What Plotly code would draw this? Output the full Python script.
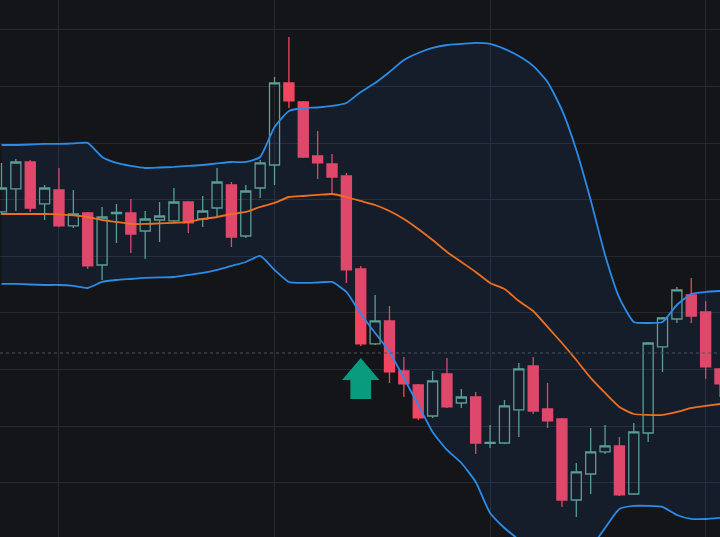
import plotly.graph_objects as go

# ---- data ----
idx = list(range(51))
open_ = [117.83,121.89,126.65,119.24,121.71,115.36,117.65,108.47,117.56,117.65,
         114.47,116.41,116.24,119.59,116.59,118.53,122.59,113.59,122.06,126.12,
         140.60,137.24,127.71,126.30,124.18,107.77,94.53,98.59,89.76,87.29,
         81.82,89.23,84.11,85.17,76.97,77.05,82.88,90.65,83.06,81.29,
         66.99,71.58,75.47,76.53,68.05,78.82,94.00,98.94,103.18,100.18,90.12]
high = [126.48,127.18,127.00,122.59,125.59,121.71,117.83,118.71,119.24,120.12,
        118.00,119.59,122.06,119.77,120.65,125.59,123.12,122.59,127.00,141.65,
        148.71,137.42,132.12,128.06,124.71,108.30,103.18,101.24,92.23,87.47,
        89.76,92.06,86.59,86.06,80.23,84.64,91.17,92.23,87.64,81.47,
        73.52,79.70,80.23,78.11,80.58,94.88,99.29,104.59,106.18,102.12,90.29]
low = [117.30,118.00,117.83,116.41,115.18,115.00,107.77,105.82,112.36,110.59,
       109.53,112.53,116.06,114.12,115.18,117.12,111.65,113.24,120.30,122.59,
       136.18,127.36,123.65,121.18,105.30,94.18,94.35,87.64,85.17,81.11,
       81.47,83.23,83.23,75.11,76.17,76.88,78.11,82.17,79.70,65.76,
       63.99,68.05,75.11,67.70,67.88,77.23,89.59,98.23,98.23,88.35,85.17]
close = [122.06,126.65,118.53,122.06,115.36,117.47,108.30,116.94,117.74,113.94,
         116.59,117.12,119.59,115.89,118.00,123.12,113.41,121.53,126.48,140.60,
         137.42,127.53,126.48,124.00,107.59,94.53,98.59,89.59,87.47,81.47,
         88.00,83.41,85.17,77.05,77.14,83.59,90.12,82.70,80.94,66.99,
         71.94,75.47,76.53,67.88,79.00,94.70,99.12,104.06,99.47,90.47,87.47]

bb_upper = [129.65,129.65,129.74,129.83,129.83,129.92,130.01,127.53,126.48,125.95,
            125.59,125.68,125.77,125.95,126.12,126.39,126.65,126.65,127.53,132.83,
            135.65,136.18,136.27,136.54,137.07,139.01,140.60,142.54,144.65,145.89,
            146.77,147.30,147.48,147.66,147.48,146.60,145.36,143.60,140.77,135.83,
            128.77,119.94,110.24,102.65,98.41,98.23,98.41,101.41,103.35,103.71,103.88]
bb_basis = [117.47,117.47,117.47,117.47,117.39,117.21,116.94,116.41,116.06,115.71,
            115.71,115.80,115.89,116.06,116.59,116.94,117.47,117.83,118.71,119.42,
            120.47,120.65,120.83,121.00,120.47,119.77,119.06,118.00,116.59,114.83,
            112.88,110.77,109.00,107.24,105.30,104.24,102.12,100.35,97.53,94.70,
            91.70,88.53,85.88,83.41,82.17,82.00,82.00,82.53,83.23,83.59,83.94]
bb_lower = [105.12,105.12,105.03,104.94,104.94,104.77,104.41,105.47,105.82,106.00,
            106.18,106.27,106.35,106.71,107.06,107.59,108.30,109.00,110.06,107.59,
            105.47,105.30,105.38,105.47,103.71,99.82,96.47,93.12,88.53,83.76,
            79.00,75.82,73.52,70.17,64.70,62.05,59.93,57.11,55.35,54.29,
            55.47,58.52,62.05,65.41,65.94,65.94,65.76,64.35,63.64,63.64,63.82]

price_line = 92.94          # dotted reference price
signal_idx = 25             # buy-signal candle
arrow_tip, arrow_neck, arrow_base = 92.06, 88.17, 84.82

BG = "#131519"
UP = "#62A292"
DOWN = "#F44560"
BLUE = "#2C8BE6"
ORANGE = "#EE6F1F"
GRID = "#262a33"

line_style = dict(width=1.8, shape="spline", smoothing=0.5)

fig = go.Figure()
fig.add_trace(go.Scatter(x=idx, y=bb_upper, mode="lines",
                         line=dict(color=BLUE, **line_style), hoverinfo="skip"))
fig.add_trace(go.Scatter(x=idx, y=bb_lower, mode="lines", fill="tonexty",
                         fillcolor="rgba(40,110,200,0.10)",
                         line=dict(color=BLUE, **line_style), hoverinfo="skip"))
fig.add_trace(go.Scatter(x=idx, y=bb_basis, mode="lines",
                         line=dict(color=ORANGE, **line_style), hoverinfo="skip"))
fig.add_trace(go.Candlestick(
    x=idx, open=open_, high=high, low=low, close=close,
    increasing=dict(line=dict(color=UP, width=1.3), fillcolor="rgba(0,0,0,0)"),
    decreasing=dict(line=dict(color=DOWN, width=1.3), fillcolor=DOWN),
    whiskerwidth=0,
))

# dotted price line
fig.add_shape(type="line", xref="paper", x0=0, x1=1, yref="y",
              y0=price_line, y1=price_line,
              line=dict(color="#4f535c", width=1, dash="dot"))

# buy arrow below the signal candle
hw, sw = 1.3, 0.72
s = signal_idx
path = (f"M {s},{arrow_tip} L {s+hw},{arrow_neck} L {s+sw},{arrow_neck} "
        f"L {s+sw},{arrow_base} L {s-sw},{arrow_base} L {s-sw},{arrow_neck} "
        f"L {s-hw},{arrow_neck} Z")
fig.add_shape(type="path", path=path, xref="x", yref="y",
              fillcolor="#0A9A7E", line=dict(width=0))

fig.update_layout(
    width=720, height=537, margin=dict(l=0, r=0, t=0, b=0),
    paper_bgcolor=BG, plot_bgcolor=BG, showlegend=False,
    boxgap=0.0,
    xaxis=dict(range=[-0.104, 50.0], showticklabels=False, zeroline=False,
               showgrid=True, gridcolor=GRID, gridwidth=1,
               tick0=4, dtick=15, rangeslider=dict(visible=False), fixedrange=True),
    yaxis=dict(range=[60.46, 155.24], showticklabels=False, zeroline=False,
               showgrid=True, gridcolor=GRID, gridwidth=1,
               tick0=100, dtick=10, fixedrange=True),
)

fig.write_html("out.html", config={"displayModeBar": False},
               post_script="document.body.style.margin='0';"
                           "document.body.style.background='#131519';")
